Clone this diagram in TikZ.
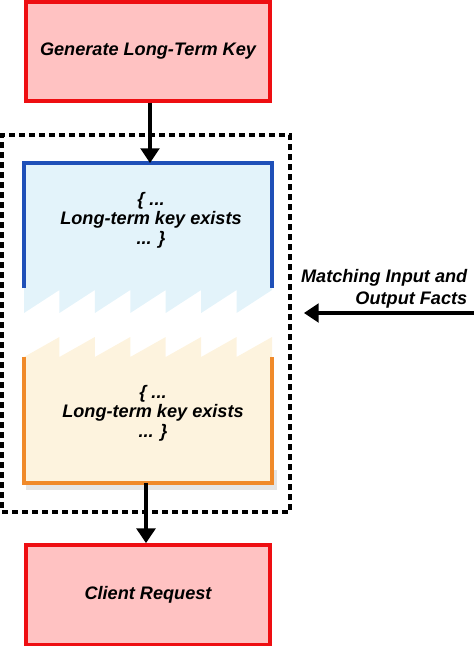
\documentclass[tikz,border=0pt]{standalone}
\usepackage{fontspec}
\setsansfont{Liberation Sans}
\usetikzlibrary{arrows.meta}

\definecolor{keyred}{HTML}{EE0E12}
\definecolor{keypink}{HTML}{FFC2C2}
\definecolor{oldblue}{HTML}{1F50B8}
\definecolor{oldfill}{HTML}{E3F3FA}
\definecolor{neworange}{HTML}{F08A2A}
\definecolor{newfill}{HTML}{FDF3DE}

\begin{document}
\begin{tikzpicture}[x=0.75pt, y=-0.75pt,
    font=\sffamily\bfseries\itshape\fontsize{13.6}{14.5}\selectfont,
    rule/.style={draw=keyred, fill=keypink, line width=2.8pt, minimum width=183pt},
    arr/.style={line width=2.4pt, -{Triangle[width=14pt, length=11pt]}}]
    \useasboundingbox (0,0) rectangle (474,646);
    % rules
    \node[rule, minimum height=73.9pt] (gen) at (148,51.5) {Generate Long-Term Key};
    \node[rule, minimum height=74.6pt] (req) at (148,594.75) {Client Request};
    % matched facts, torn apart in the middle
    \fill[oldfill] (24,163) -- (272,163) -- (272,290)
      \foreach \k in {6,...,0} { -- ({24+\k*35.43},313) -- ({24+\k*35.43},290) } -- cycle;
    \fill[newfill] (24,357)
      \foreach \k in {1,...,7} { -- ({24+\k*35.43},337) -- ({24+\k*35.43},357) }
      -- (272,483) -- (24,483) -- cycle;
    \draw[black, opacity=0.1, line width=4pt] (26,487.5) -- (274,487.5) -- (274,470);
    \draw[oldblue, line width=2.5pt] (24,288) -- (24,163) -- (272,163) -- (272,288);
    \draw[neworange, line width=2.5pt] (24,357) -- (24,483) -- (272,483) -- (272,357);
    \node[align=center] (oldfact) at (151,220) {\{ ...\\Long-term key exists\\... \}};
    \node[align=center] (newfact) at (153,413) {\{ ...\\Long-term key exists\\... \}};
    \node[draw, line width=3pt, dash pattern=on 4.5pt off 3pt,
      minimum width=216pt, minimum height=282.75pt] (match) at (146,323.5) {};
    \node[align=right, anchor=east, font=\sffamily\bfseries\itshape\fontsize{13.6}{16.5}\selectfont]
      (label) at (472,289) {Matching Input and\\Output Facts};
    % connectors
    \coordinate (oldtop) at (150,163);
    \coordinate (newbot) at (146,483);
    \coordinate (facts) at (474,313);
    \draw[arr] (gen.south -| oldtop) -- (oldtop);
    \draw[arr] (newbot) -- (newbot |- req.north);
    \draw[arr] (facts) -- ([xshift=9pt]match.east |- facts);
  \end{tikzpicture}
\end{document}
